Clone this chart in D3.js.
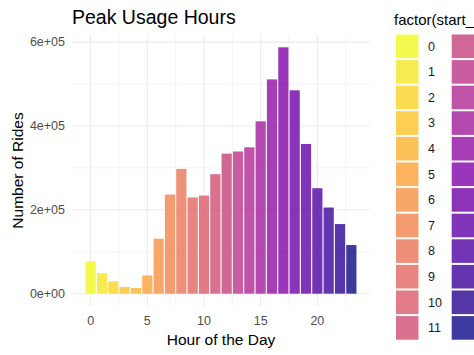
<!DOCTYPE html>
<html><head><meta charset="utf-8">
<script src="https://cdn.jsdelivr.net/npm/d3@7"></script>
<style>body{margin:0;background:#fff;} text{font-family:"Liberation Sans",Arial,sans-serif;}</style>
</head><body><svg id="c" width="474" height="355"></svg>
<script>
const hours = d3.range(0, 24);
const rides = [77000, 49000, 29500, 16000, 13500, 43500, 131000, 236500, 297500, 229500, 234000, 285000,
               334000, 339000, 349000, 411000, 511000, 587500, 485000, 357000, 251500, 205500, 166000, 116000];
const yTicks = [0, 200000, 400000, 600000];
const yTickLabels = ["0e+00", "2e+05", "4e+05", "6e+05"];
const xTicks = [0, 5, 10, 15, 20];

const svg = d3.select("#c");
const L = 72, R = 370, T = 35, B = 306;
const xmin = -0.45, xmax = 23.45, xpad = (xmax - xmin) * 0.05;
const x = d3.scaleLinear().domain([xmin - xpad, xmax + xpad]).range([L, R]);
const ymax = d3.max(rides);
const y = d3.scaleLinear().domain([-ymax * 0.05, ymax * 1.05]).range([B, T]);
const color = i => d3.interpolatePlasma(1 - i / 23);

const g = svg.append("g");
// minor grid
const yMinor = [100000, 300000, 500000];
const xMinor = [-2.5, 2.5, 7.5, 12.5, 17.5, 22.5].filter(v => x(v) >= L && x(v) <= R);
g.selectAll(".ymin").data(yMinor).join("line").attr("x1", L).attr("x2", R)
  .attr("y1", d => y(d)).attr("y2", d => y(d)).attr("stroke", "#EBEBEB").attr("stroke-width", 0.6);
g.selectAll(".xmin").data(xMinor).join("line").attr("y1", T).attr("y2", B)
  .attr("x1", d => x(d)).attr("x2", d => x(d)).attr("stroke", "#EBEBEB").attr("stroke-width", 0.6);
// major grid
g.selectAll(".ymaj").data(yTicks).join("line").attr("x1", L).attr("x2", R)
  .attr("y1", d => y(d)).attr("y2", d => y(d)).attr("stroke", "#EBEBEB").attr("stroke-width", 1.1);
g.selectAll(".xmaj").data(xTicks).join("line").attr("y1", T).attr("y2", B)
  .attr("x1", d => x(d)).attr("x2", d => x(d)).attr("stroke", "#EBEBEB").attr("stroke-width", 1.1);

// bars
g.selectAll(".bar").data(hours).join("rect")
  .attr("x", d => x(d - 0.45)).attr("width", d => x(d + 0.45) - x(d - 0.45))
  .attr("y", d => y(rides[d])).attr("height", d => y(0) - y(rides[d]))
  .attr("fill", d => color(d)).attr("fill-opacity", 0.8);

// axes labels
g.selectAll(".yt").data(yTicks).join("text").attr("x", L - 7).attr("y", d => y(d)).attr("dy", "0.35em")
  .attr("text-anchor", "end").attr("font-size", 12.5).attr("fill", "#4D4D4D").text((d, i) => yTickLabels[i]);
g.selectAll(".xt").data(xTicks).join("text").attr("x", d => x(d)).attr("y", 325)
  .attr("text-anchor", "middle").attr("font-size", 12.5).attr("fill", "#4D4D4D").text(d => d);

svg.append("text").attr("x", (L + R) / 2).attr("y", 345).attr("text-anchor", "middle")
  .attr("font-size", 15.5).attr("fill", "#000").text("Hour of the Day");
svg.append("text").attr("transform", `translate(23,${(T + B) / 2}) rotate(-90)`).attr("text-anchor", "middle")
  .attr("font-size", 15.5).attr("fill", "#000").text("Number of Rides");
svg.append("text").attr("x", L).attr("y", 24).attr("font-size", 19.5).attr("fill", "#000").text("Peak Usage Hours");

// legend
const lg = svg.append("g");
lg.append("text").attr("x", 394).attr("y", 25).attr("font-size", 15).attr("fill", "#000").text("factor(start_hour)");
const keyH = 23.6, step = 25.6, kx0 = 396, colStep = 55.7, ky0 = 34.5;
lg.selectAll(".key").data(hours).join("rect")
  .attr("x", d => kx0 + Math.floor(d / 12) * colStep).attr("y", d => ky0 + (d % 12) * step)
  .attr("width", 22.5).attr("height", keyH).attr("fill", d => color(d)).attr("fill-opacity", 0.8);
lg.selectAll(".kl").data(hours).join("text")
  .attr("x", d => kx0 + Math.floor(d / 12) * colStep + 32).attr("y", d => ky0 + (d % 12) * step + keyH / 2)
  .attr("dy", "0.35em").attr("font-size", 12.5).attr("fill", "#1a1a1a").text(d => d);
</script></body></html>
